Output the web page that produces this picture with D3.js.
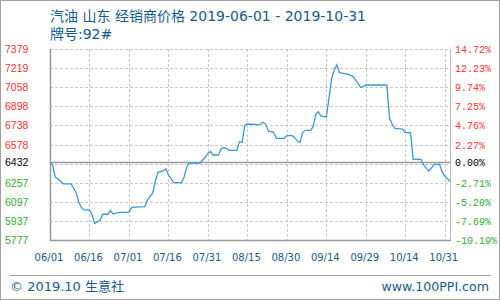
<meta charset="utf-8">
<title>汽油 山东 经销商价格</title>
<style>
body { margin: 0; background: #fff; }
</style>
<body>
<script src="https://cdn.jsdelivr.net/npm/d3@7"></script>
<script>
// price series
var dates = ['2019-06-01','2019-06-02','2019-06-03','2019-06-04','2019-06-05','2019-06-06','2019-06-09','2019-06-10',
  '2019-06-11','2019-06-12','2019-06-13','2019-06-14','2019-06-16','2019-06-17','2019-06-18','2019-06-19','2019-06-20',
  '2019-06-21','2019-06-23','2019-06-24','2019-06-25','2019-06-27','2019-07-01','2019-07-02','2019-07-07','2019-07-08',
  '2019-07-10','2019-07-11','2019-07-12','2019-07-14','2019-07-15','2019-07-16','2019-07-17','2019-07-18','2019-07-21',
  '2019-07-22','2019-07-23','2019-07-24','2019-07-28','2019-07-29','2019-07-30','2019-07-31','2019-08-01','2019-08-02',
  '2019-08-04','2019-08-05','2019-08-06','2019-08-07','2019-08-08','2019-08-11','2019-08-12','2019-08-13','2019-08-14',
  '2019-08-15','2019-08-18','2019-08-19','2019-08-20','2019-08-21','2019-08-22','2019-08-23','2019-08-25','2019-08-26',
  '2019-08-29','2019-08-30','2019-09-01','2019-09-02','2019-09-03','2019-09-04','2019-09-05','2019-09-06','2019-09-08',
  '2019-09-09','2019-09-10','2019-09-11','2019-09-12','2019-09-14','2019-09-15','2019-09-16','2019-09-17','2019-09-18',
  '2019-09-19','2019-09-22','2019-09-24','2019-09-25','2019-09-26','2019-09-27','2019-09-28','2019-09-29','2019-10-07',
  '2019-10-08','2019-10-09','2019-10-10','2019-10-13','2019-10-14','2019-10-16','2019-10-17','2019-10-20','2019-10-21',
  '2019-10-22','2019-10-23','2019-10-24','2019-10-25','2019-10-27','2019-10-28','2019-10-29','2019-10-30','2019-10-31'];
var prices = [6432,6406,6305,6289,6272,6247,6247,6211,
  6170,6090,6048,6029,6029,5987,5915,5930,5942,
  5993,5993,6023,5995,6009,6009,6050,6056,6112,
  6169,6266,6345,6356,6375,6322,6294,6258,6258,
  6308,6392,6423,6423,6448,6471,6504,6518,6490,
  6490,6540,6554,6546,6529,6529,6601,6596,6736,
  6750,6747,6742,6750,6764,6747,6690,6680,6630,
  6630,6653,6652,6635,6607,6596,6680,6697,6697,
  6727,6831,6853,6815,6809,6965,7130,7203,7245,
  7180,7169,7152,7125,7090,7058,7063,7077,7077,
  6800,6750,6714,6708,6677,6677,6454,6454,6406,
  6378,6356,6383,6412,6412,6350,6314,6294,6266];

var basePrice = 6432;
var leftTicks = [7379,7219,7058,6898,6738,6578,6432,6257,6097,5937,5777];
var rightTicks = ['14.72%','12.23%','9.74%','7.25%','4.76%','2.27%','0.00%','-2.71%','-5.20%','-7.69%','-10.19%'];
var xTickDates = ['2019-06-01','2019-06-16','2019-07-01','2019-07-16','2019-07-31','2019-08-15','2019-08-30',
  '2019-09-14','2019-09-29','2019-10-14','2019-10-29'];
var xTickLabels = ['06/01','06/16','07/01','07/16','07/31','08/15','08/30','09/14','09/29','10/14','10/31'];

var titleText = '汽油 山东 经销商价格 2019-06-01 - 2019-10-31';
var subText = '牌号:92#';

var W = 500, H = 300;
var pLeft = 50, pRight = 450, pTop = 49, pBottom = 240;
var blue = '#175b8c';
var red = '#ff3333';
var green = '#33aa33';

var parse = d3.timeParse('%Y-%m-%d');
var data = dates.map(function(d, i){ return {date: parse(d), value: prices[i]}; });

var svg = d3.select('body').append('svg')
            .attr('width', W)
            .attr('height', H);

// outer frame
svg.append('rect')
    .attr('x', 0.5).attr('y', 0.5)
    .attr('width', W - 1).attr('height', H - 1)
      .style('fill', '#fff').style('stroke', '#a0a0a0');

var x = d3.scaleTime()
  .domain([parse('2019-06-01'), parse('2019-10-31')])
  .range([pLeft, pRight]);

var y = d3.scaleLinear()
  .domain([leftTicks[leftTicks.length - 1], leftTicks[0]])
  .range([pBottom, pTop]);

// title
svg.append('text')
    .attr('x', 50).attr('y', 21)
    .style('font-family', '"DejaVu Sans", "Noto Sans CJK SC", sans-serif')
    .style('font-size', '14px')
    .style('fill', blue)
      .text(titleText);
svg.append('text')
    .attr('x', 50).attr('y', 39)
    .style('font-family', '"DejaVu Sans", "Noto Sans CJK SC", sans-serif')
    .style('font-size', '14px')
    .style('fill', blue)
      .text(subText);

//grid=========================================================
var yDom = y.domain();
for(var i = 1; i <= 10; i ++){
  var gy = Math.round(y(yDom[0] + (yDom[1] - yDom[0]) * i / 10)) + 0.5;
  svg.append('line')
      .attr('x1', pLeft).attr('x2', pRight)
      .attr('y1', gy).attr('y2', gy)
        .style('stroke', '#c8c8c8')
        .style('stroke-dasharray', '3,2');
}
for(var j = 1; j < xTickDates.length; j ++){
  var gx = Math.round(x(parse(xTickDates[j]))) + 0.5;
  svg.append('line')
      .attr('x1', gx).attr('x2', gx)
      .attr('y1', pTop).attr('y2', pBottom)
        .style('stroke', '#c8c8c8')
        .style('stroke-dasharray', '3,2');
}

// base line (0%)
var by = Math.round(y(basePrice)) + 0.5;
svg.append('line')
    .attr('x1', pLeft).attr('x2', pRight)
    .attr('y1', by).attr('y2', by)
      .style('stroke', '#999').style('stroke-width', 1.5);

// axes frame
svg.append('line')
    .attr('x1', pLeft + 0.5).attr('x2', pLeft + 0.5)
    .attr('y1', pTop).attr('y2', pBottom)
      .style('stroke', '#999').style('stroke-width', 1.5);
svg.append('line')
    .attr('x1', pRight + 0.5).attr('x2', pRight + 0.5)
    .attr('y1', pTop).attr('y2', pBottom)
      .style('stroke', '#bbb');
svg.append('line')
    .attr('x1', pLeft).attr('x2', pRight + 1)
    .attr('y1', pBottom + 0.5).attr('y2', pBottom + 0.5)
      .style('stroke', '#999').style('stroke-width', 1.5);

// price line
var line = d3.line()
  .x(function(d){ return x(d.date); })
  .y(function(d){ return y(d.value); });

svg.append('path')
    .datum(data)
    .attr('d', line)
      .style('fill', 'none')
      .style('stroke', '#3a98d8')
      .style('stroke-width', 1.3);

//labels=======================================================
for(var i = 0; i < leftTicks.length; i ++){
  var c = leftTicks[i] > basePrice ? red : (leftTicks[i] < basePrice ? green : '#000');
  svg.append('text')
      .attr('x', 5)
      .attr('y', y(leftTicks[i]) + 4)
      .style('font-family', '"Liberation Sans", Arial, sans-serif')
      .style('font-size', '10.5px')
      .style('fill', c)
        .text(leftTicks[i]);
  svg.append('text')
      .attr('x', 455)
      .attr('y', y(leftTicks[i]) + 4)
      .style('font-family', '"Liberation Mono", monospace')
      .style('font-size', '10px')
      .style('fill', c)
        .text(rightTicks[i]);
}

for(var j = 0; j < xTickDates.length; j ++){
  svg.append('text')
      .attr('x', x(parse(xTickDates[j])) - 1)
      .attr('y', 261)
      .style('font-family', '"DejaVu Sans", sans-serif')
      .style('font-size', '10px')
      .style('text-anchor', 'middle')
      .style('fill', blue)
        .text(xTickLabels[j]);
}

// footer
svg.append('line')
    .attr('x1', 10).attr('x2', 491)
    .attr('y1', 275.5).attr('y2', 275.5)
      .style('stroke', '#a0a0a0');
svg.append('text')
    .attr('x', 10).attr('y', 291)
    .style('font-family', '"DejaVu Sans", "Noto Sans CJK SC", sans-serif')
    .style('font-size', '13px')
    .style('fill', blue)
      .text('© 2019.10 生意社');
svg.append('text')
    .attr('x', 489).attr('y', 291)
    .style('font-family', '"DejaVu Sans", sans-serif')
    .style('font-size', '12.6px')
    .style('text-anchor', 'end')
    .style('fill', blue)
      .text('www.100PPI.com');
</script>
</body>
